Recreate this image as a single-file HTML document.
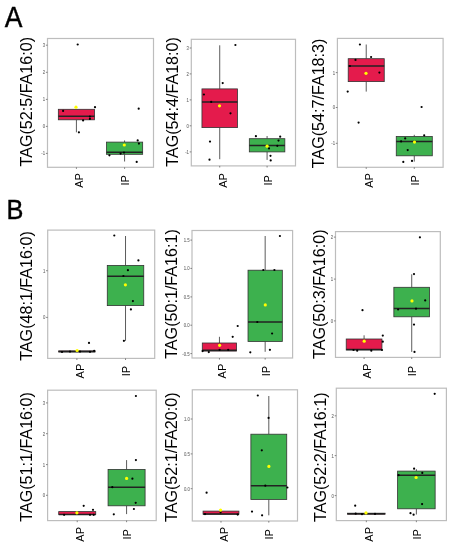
<!DOCTYPE html><html><head><meta charset="utf-8"><style>html,body{margin:0;padding:0;background:#fff;}svg{display:block;}text{font-family:"Liberation Sans",Arial,sans-serif;}</style></head><body>
<svg width="454" height="550" viewBox="0 0 454 550">
<rect width="454" height="550" fill="#fff"/>
<text transform="translate(4.7,26.8) scale(0.93,1.01)" font-size="28.5" fill="#000" stroke="#000" stroke-width="0.4">A</text>
<text transform="translate(6.4,219.1) scale(0.89,0.975)" font-size="28.5" fill="#000" stroke="#000" stroke-width="0.45">B</text>
<g><rect x="47.5" y="38.5" width="106" height="128.8" fill="none" stroke="#bdbdbd" stroke-width="1.2"/><line x1="45.9" y1="45.2" x2="47.5" y2="45.2" stroke="#666" stroke-width="0.8"/><text transform="translate(45.1,47.1) scale(0.8,1)" font-size="5.3" fill="#707070" stroke="#707070" stroke-width="0.1" text-anchor="end">3</text><line x1="45.9" y1="72.3" x2="47.5" y2="72.3" stroke="#666" stroke-width="0.8"/><text transform="translate(45.1,74.2) scale(0.8,1)" font-size="5.3" fill="#707070" stroke="#707070" stroke-width="0.1" text-anchor="end">2</text><line x1="45.9" y1="99.4" x2="47.5" y2="99.4" stroke="#666" stroke-width="0.8"/><text transform="translate(45.1,101.3) scale(0.8,1)" font-size="5.3" fill="#707070" stroke="#707070" stroke-width="0.1" text-anchor="end">1</text><line x1="45.9" y1="126.4" x2="47.5" y2="126.4" stroke="#666" stroke-width="0.8"/><text transform="translate(45.1,128.3) scale(0.8,1)" font-size="5.3" fill="#707070" stroke="#707070" stroke-width="0.1" text-anchor="end">0</text><line x1="45.9" y1="153.4" x2="47.5" y2="153.4" stroke="#666" stroke-width="0.8"/><text transform="translate(45.1,155.3) scale(0.8,1)" font-size="5.3" fill="#707070" stroke="#707070" stroke-width="0.1" text-anchor="end">-1</text><line x1="76.41" y1="167.3" x2="76.41" y2="168.9" stroke="#666" stroke-width="0.8"/><line x1="124.59" y1="167.3" x2="124.59" y2="168.9" stroke="#666" stroke-width="0.8"/><line x1="76.41" y1="119.8" x2="76.41" y2="132.3" stroke="#4a4a4a" stroke-width="0.9"/><rect x="58.34" y="109.3" width="36.14" height="10.5" fill="#E41B4C" stroke="#333" stroke-width="0.8"/><line x1="58.34" y1="116.3" x2="94.48" y2="116.3" stroke="#222" stroke-width="1.5"/><circle cx="77.7" cy="44.5" r="1.1" fill="#000"/><circle cx="63.1" cy="110.9" r="1.1" fill="#000"/><circle cx="95" cy="107.2" r="1.1" fill="#000"/><circle cx="83.1" cy="120.4" r="1.1" fill="#000"/><circle cx="89.9" cy="116.5" r="1.1" fill="#000"/><circle cx="89.9" cy="118.9" r="1.1" fill="#000"/><circle cx="78.9" cy="132.3" r="1.1" fill="#000"/><circle cx="76" cy="107.2" r="1.6" fill="#FFFF00"/><line x1="124.59" y1="140.4" x2="124.59" y2="142.1" stroke="#4a4a4a" stroke-width="0.9"/><line x1="124.59" y1="154.3" x2="124.59" y2="161.5" stroke="#4a4a4a" stroke-width="0.9"/><rect x="106.52" y="142.1" width="36.14" height="12.2" fill="#3DB14E" stroke="#333" stroke-width="0.8"/><line x1="106.52" y1="152.3" x2="142.66" y2="152.3" stroke="#222" stroke-width="1.5"/><circle cx="138.7" cy="108.7" r="1.1" fill="#000"/><circle cx="137.7" cy="140.4" r="1.1" fill="#000"/><circle cx="138.9" cy="143.6" r="1.1" fill="#000"/><circle cx="109.4" cy="155.3" r="1.1" fill="#000"/><circle cx="120.6" cy="153.6" r="1.1" fill="#000"/><circle cx="124" cy="152.6" r="1.1" fill="#000"/><circle cx="136.7" cy="161.9" r="1.1" fill="#000"/><circle cx="124.3" cy="145" r="1.6" fill="#FFFF00"/><text transform="translate(83.41,180.4) rotate(-90)" font-size="11" fill="#000" text-anchor="middle">AP</text><text transform="translate(129.09,180.4) rotate(-90)" font-size="11" fill="#000" text-anchor="middle">IP</text><text transform="translate(31.6,166.5) rotate(-90)" font-size="16.2" fill="#000" textLength="129.6" lengthAdjust="spacingAndGlyphs">TAG(52:5/FA16:0)</text></g>
<g><rect x="191.3" y="39.3" width="104.2" height="126.6" fill="none" stroke="#bdbdbd" stroke-width="1.2"/><line x1="189.7" y1="48" x2="191.3" y2="48" stroke="#666" stroke-width="0.8"/><text transform="translate(188.9,49.9) scale(0.8,1)" font-size="5.3" fill="#707070" stroke="#707070" stroke-width="0.1" text-anchor="end">3</text><line x1="189.7" y1="73.9" x2="191.3" y2="73.9" stroke="#666" stroke-width="0.8"/><text transform="translate(188.9,75.8) scale(0.8,1)" font-size="5.3" fill="#707070" stroke="#707070" stroke-width="0.1" text-anchor="end">2</text><line x1="189.7" y1="99.9" x2="191.3" y2="99.9" stroke="#666" stroke-width="0.8"/><text transform="translate(188.9,101.8) scale(0.8,1)" font-size="5.3" fill="#707070" stroke="#707070" stroke-width="0.1" text-anchor="end">1</text><line x1="189.7" y1="125.8" x2="191.3" y2="125.8" stroke="#666" stroke-width="0.8"/><text transform="translate(188.9,127.7) scale(0.8,1)" font-size="5.3" fill="#707070" stroke="#707070" stroke-width="0.1" text-anchor="end">0</text><line x1="189.7" y1="151.9" x2="191.3" y2="151.9" stroke="#666" stroke-width="0.8"/><text transform="translate(188.9,153.8) scale(0.8,1)" font-size="5.3" fill="#707070" stroke="#707070" stroke-width="0.1" text-anchor="end">-1</text><line x1="219.72" y1="165.9" x2="219.72" y2="167.5" stroke="#666" stroke-width="0.8"/><line x1="267.08" y1="165.9" x2="267.08" y2="167.5" stroke="#666" stroke-width="0.8"/><line x1="219.72" y1="45.3" x2="219.72" y2="88.9" stroke="#4a4a4a" stroke-width="0.9"/><line x1="219.72" y1="127.6" x2="219.72" y2="159.2" stroke="#4a4a4a" stroke-width="0.9"/><rect x="201.96" y="88.9" width="35.52" height="38.7" fill="#E41B4C" stroke="#333" stroke-width="0.8"/><line x1="201.96" y1="102.1" x2="237.48" y2="102.1" stroke="#222" stroke-width="1.5"/><circle cx="235.4" cy="45" r="1.1" fill="#000"/><circle cx="222.7" cy="83.1" r="1.1" fill="#000"/><circle cx="203.9" cy="94.5" r="1.1" fill="#000"/><circle cx="211.2" cy="101.9" r="1.1" fill="#000"/><circle cx="230.5" cy="113.3" r="1.1" fill="#000"/><circle cx="210" cy="141.6" r="1.1" fill="#000"/><circle cx="209.5" cy="159.7" r="1.1" fill="#000"/><circle cx="219.5" cy="105.8" r="1.6" fill="#FFFF00"/><line x1="267.08" y1="136" x2="267.08" y2="138.7" stroke="#4a4a4a" stroke-width="0.9"/><line x1="267.08" y1="151.9" x2="267.08" y2="159.9" stroke="#4a4a4a" stroke-width="0.9"/><rect x="249.32" y="138.7" width="35.52" height="13.2" fill="#3DB14E" stroke="#333" stroke-width="0.8"/><line x1="249.32" y1="145.5" x2="284.84" y2="145.5" stroke="#222" stroke-width="1.5"/><circle cx="255.9" cy="136.2" r="1.1" fill="#000"/><circle cx="280.2" cy="136.7" r="1.1" fill="#000"/><circle cx="278.5" cy="140.6" r="1.1" fill="#000"/><circle cx="277.3" cy="145.8" r="1.1" fill="#000"/><circle cx="269" cy="148.4" r="1.1" fill="#000"/><circle cx="270.5" cy="155.8" r="1.1" fill="#000"/><circle cx="270.7" cy="160.4" r="1.1" fill="#000"/><circle cx="267.1" cy="146.2" r="1.6" fill="#FFFF00"/><text transform="translate(226.72,180.4) rotate(-90)" font-size="11" fill="#000" text-anchor="middle">AP</text><text transform="translate(271.58,180.4) rotate(-90)" font-size="11" fill="#000" text-anchor="middle">IP</text><text transform="translate(178.1,166.7) rotate(-90)" font-size="16.2" fill="#000" textLength="129.6" lengthAdjust="spacingAndGlyphs">TAG(54:4/FA18:0)</text></g>
<g><rect x="337.4" y="38.4" width="105.7" height="128.9" fill="none" stroke="#bdbdbd" stroke-width="1.2"/><line x1="335.8" y1="72.6" x2="337.4" y2="72.6" stroke="#666" stroke-width="0.8"/><text transform="translate(335,74.5) scale(0.8,1)" font-size="5.3" fill="#707070" stroke="#707070" stroke-width="0.1" text-anchor="end">1</text><line x1="335.8" y1="107.5" x2="337.4" y2="107.5" stroke="#666" stroke-width="0.8"/><text transform="translate(335,109.4) scale(0.8,1)" font-size="5.3" fill="#707070" stroke="#707070" stroke-width="0.1" text-anchor="end">0</text><line x1="335.8" y1="143.3" x2="337.4" y2="143.3" stroke="#666" stroke-width="0.8"/><text transform="translate(335,145.2) scale(0.8,1)" font-size="5.3" fill="#707070" stroke="#707070" stroke-width="0.1" text-anchor="end">-1</text><line x1="366.23" y1="167.3" x2="366.23" y2="168.9" stroke="#666" stroke-width="0.8"/><line x1="414.27" y1="167.3" x2="414.27" y2="168.9" stroke="#666" stroke-width="0.8"/><line x1="366.23" y1="44.5" x2="366.23" y2="58.7" stroke="#4a4a4a" stroke-width="0.9"/><line x1="366.23" y1="81.6" x2="366.23" y2="91.6" stroke="#4a4a4a" stroke-width="0.9"/><rect x="348.21" y="58.7" width="36.03" height="22.9" fill="#E41B4C" stroke="#333" stroke-width="0.8"/><line x1="348.21" y1="66" x2="384.24" y2="66" stroke="#222" stroke-width="1.5"/><circle cx="359.9" cy="44.5" r="1.1" fill="#000"/><circle cx="371.1" cy="57" r="1.1" fill="#000"/><circle cx="355.5" cy="59.9" r="1.1" fill="#000"/><circle cx="349.9" cy="66" r="1.1" fill="#000"/><circle cx="379.4" cy="72.6" r="1.1" fill="#000"/><circle cx="347.7" cy="91.6" r="1.1" fill="#000"/><circle cx="358.6" cy="122.6" r="1.1" fill="#000"/><circle cx="366" cy="73.3" r="1.6" fill="#FFFF00"/><line x1="414.27" y1="134.8" x2="414.27" y2="136.5" stroke="#4a4a4a" stroke-width="0.9"/><line x1="414.27" y1="155.8" x2="414.27" y2="161.6" stroke="#4a4a4a" stroke-width="0.9"/><rect x="396.26" y="136.5" width="36.03" height="19.3" fill="#3DB14E" stroke="#333" stroke-width="0.8"/><line x1="396.26" y1="141.4" x2="432.29" y2="141.4" stroke="#222" stroke-width="1.5"/><circle cx="421.6" cy="107" r="1.1" fill="#000"/><circle cx="424.2" cy="135.3" r="1.1" fill="#000"/><circle cx="405.2" cy="138.4" r="1.1" fill="#000"/><circle cx="401.1" cy="141.4" r="1.1" fill="#000"/><circle cx="407.7" cy="150.1" r="1.1" fill="#000"/><circle cx="403.3" cy="161.9" r="1.1" fill="#000"/><circle cx="412" cy="160.9" r="1.1" fill="#000"/><circle cx="414.5" cy="142.1" r="1.6" fill="#FFFF00"/><text transform="translate(373.23,180.4) rotate(-90)" font-size="11" fill="#000" text-anchor="middle">AP</text><text transform="translate(418.77,180.4) rotate(-90)" font-size="11" fill="#000" text-anchor="middle">IP</text><text transform="translate(323.9,168.2) rotate(-90)" font-size="16.2" fill="#000" textLength="129.6" lengthAdjust="spacingAndGlyphs">TAG(54:7/FA18:3)</text></g>
<g><rect x="47.7" y="230.1" width="107" height="128.3" fill="none" stroke="#bdbdbd" stroke-width="1.2"/><line x1="46.1" y1="270.7" x2="47.7" y2="270.7" stroke="#666" stroke-width="0.8"/><text transform="translate(45.3,272.6) scale(0.8,1)" font-size="5.3" fill="#707070" stroke="#707070" stroke-width="0.1" text-anchor="end">1</text><line x1="46.1" y1="317.4" x2="47.7" y2="317.4" stroke="#666" stroke-width="0.8"/><text transform="translate(45.3,319.3) scale(0.8,1)" font-size="5.3" fill="#707070" stroke="#707070" stroke-width="0.1" text-anchor="end">0</text><line x1="76.88" y1="358.4" x2="76.88" y2="360" stroke="#666" stroke-width="0.8"/><line x1="125.52" y1="358.4" x2="125.52" y2="360" stroke="#666" stroke-width="0.8"/><rect x="58.64" y="350.9" width="36.48" height="1.1" fill="#E41B4C" stroke="#333" stroke-width="0.8"/><line x1="58.64" y1="351.5" x2="95.12" y2="351.5" stroke="#222" stroke-width="1.5"/><circle cx="89" cy="342.9" r="1.1" fill="#000"/><circle cx="94.2" cy="350.8" r="1.1" fill="#000"/><circle cx="62" cy="352" r="1.1" fill="#000"/><circle cx="70" cy="351.6" r="1.1" fill="#000"/><circle cx="80" cy="351.6" r="1.1" fill="#000"/><circle cx="90" cy="351.8" r="1.1" fill="#000"/><circle cx="77.1" cy="350.5" r="1.6" fill="#FFFF00"/><line x1="125.52" y1="236" x2="125.52" y2="265.4" stroke="#4a4a4a" stroke-width="0.9"/><line x1="125.52" y1="305.6" x2="125.52" y2="340.8" stroke="#4a4a4a" stroke-width="0.9"/><rect x="107.28" y="265.4" width="36.48" height="40.2" fill="#3DB14E" stroke="#333" stroke-width="0.8"/><line x1="107.28" y1="276.2" x2="143.76" y2="276.2" stroke="#222" stroke-width="1.5"/><circle cx="114.3" cy="235.5" r="1.1" fill="#000"/><circle cx="138.4" cy="260.4" r="1.1" fill="#000"/><circle cx="127.9" cy="270.2" r="1.1" fill="#000"/><circle cx="123.4" cy="276" r="1.1" fill="#000"/><circle cx="132.9" cy="301.1" r="1.1" fill="#000"/><circle cx="130.9" cy="309.4" r="1.1" fill="#000"/><circle cx="123.9" cy="340.8" r="1.1" fill="#000"/><circle cx="125.4" cy="284.8" r="1.6" fill="#FFFF00"/><text transform="translate(83.88,371.1) rotate(-90)" font-size="11" fill="#000" text-anchor="middle">AP</text><text transform="translate(130.02,371.1) rotate(-90)" font-size="11" fill="#000" text-anchor="middle">IP</text><text transform="translate(31.6,360.8) rotate(-90)" font-size="16.2" fill="#000" textLength="129.6" lengthAdjust="spacingAndGlyphs">TAG(48:1/FA16:0)</text></g>
<g><rect x="192" y="230.5" width="100.6" height="127.5" fill="none" stroke="#bdbdbd" stroke-width="1.2"/><line x1="190.4" y1="240.1" x2="192" y2="240.1" stroke="#666" stroke-width="0.8"/><text transform="translate(189.6,242) scale(0.8,1)" font-size="5.3" fill="#707070" stroke="#707070" stroke-width="0.1" text-anchor="end">1.5</text><line x1="190.4" y1="268.4" x2="192" y2="268.4" stroke="#666" stroke-width="0.8"/><text transform="translate(189.6,270.3) scale(0.8,1)" font-size="5.3" fill="#707070" stroke="#707070" stroke-width="0.1" text-anchor="end">1.0</text><line x1="190.4" y1="296.9" x2="192" y2="296.9" stroke="#666" stroke-width="0.8"/><text transform="translate(189.6,298.8) scale(0.8,1)" font-size="5.3" fill="#707070" stroke="#707070" stroke-width="0.1" text-anchor="end">0.5</text><line x1="190.4" y1="325.2" x2="192" y2="325.2" stroke="#666" stroke-width="0.8"/><text transform="translate(189.6,327.1) scale(0.8,1)" font-size="5.3" fill="#707070" stroke="#707070" stroke-width="0.1" text-anchor="end">0.0</text><line x1="190.4" y1="353.6" x2="192" y2="353.6" stroke="#666" stroke-width="0.8"/><text transform="translate(189.6,355.5) scale(0.8,1)" font-size="5.3" fill="#707070" stroke="#707070" stroke-width="0.1" text-anchor="end">-0.5</text><line x1="219.44" y1="358" x2="219.44" y2="359.6" stroke="#666" stroke-width="0.8"/><line x1="265.16" y1="358" x2="265.16" y2="359.6" stroke="#666" stroke-width="0.8"/><line x1="219.44" y1="336.8" x2="219.44" y2="343" stroke="#4a4a4a" stroke-width="0.9"/><rect x="202.29" y="343" width="34.3" height="8.1" fill="#E41B4C" stroke="#333" stroke-width="0.8"/><line x1="202.29" y1="350.3" x2="236.58" y2="350.3" stroke="#222" stroke-width="1.5"/><circle cx="237.7" cy="326" r="1.1" fill="#000"/><circle cx="232.7" cy="336.8" r="1.1" fill="#000"/><circle cx="228.2" cy="349.8" r="1.1" fill="#000"/><circle cx="219.6" cy="349.8" r="1.1" fill="#000"/><circle cx="208.8" cy="352.1" r="1.1" fill="#000"/><circle cx="202.6" cy="351.1" r="1.1" fill="#000"/><circle cx="219.6" cy="345.3" r="1.6" fill="#FFFF00"/><line x1="265.16" y1="236" x2="265.16" y2="270.2" stroke="#4a4a4a" stroke-width="0.9"/><line x1="265.16" y1="341.5" x2="265.16" y2="351.8" stroke="#4a4a4a" stroke-width="0.9"/><rect x="248.02" y="270.2" width="34.3" height="71.3" fill="#3DB14E" stroke="#333" stroke-width="0.8"/><line x1="248.02" y1="322" x2="282.31" y2="322" stroke="#222" stroke-width="1.5"/><circle cx="279.9" cy="236" r="1.1" fill="#000"/><circle cx="263.3" cy="270" r="1.1" fill="#000"/><circle cx="274.4" cy="270" r="1.1" fill="#000"/><circle cx="257.3" cy="322" r="1.1" fill="#000"/><circle cx="272.1" cy="333.5" r="1.1" fill="#000"/><circle cx="269.9" cy="349.8" r="1.1" fill="#000"/><circle cx="250.3" cy="352.3" r="1.1" fill="#000"/><circle cx="265.3" cy="304.9" r="1.6" fill="#FFFF00"/><text transform="translate(226.44,371.1) rotate(-90)" font-size="11" fill="#000" text-anchor="middle">AP</text><text transform="translate(269.66,371.1) rotate(-90)" font-size="11" fill="#000" text-anchor="middle">IP</text><text transform="translate(176.7,358.8) rotate(-90)" font-size="16.2" fill="#000" textLength="129.6" lengthAdjust="spacingAndGlyphs">TAG(50:1/FA16:1)</text></g>
<g><rect x="335.5" y="231.6" width="104.8" height="125.8" fill="none" stroke="#bdbdbd" stroke-width="1.2"/><line x1="333.9" y1="237.1" x2="335.5" y2="237.1" stroke="#666" stroke-width="0.8"/><text transform="translate(333.1,239) scale(0.8,1)" font-size="5.3" fill="#707070" stroke="#707070" stroke-width="0.1" text-anchor="end">2</text><line x1="333.9" y1="279.1" x2="335.5" y2="279.1" stroke="#666" stroke-width="0.8"/><text transform="translate(333.1,281) scale(0.8,1)" font-size="5.3" fill="#707070" stroke="#707070" stroke-width="0.1" text-anchor="end">1</text><line x1="333.9" y1="320.9" x2="335.5" y2="320.9" stroke="#666" stroke-width="0.8"/><text transform="translate(333.1,322.8) scale(0.8,1)" font-size="5.3" fill="#707070" stroke="#707070" stroke-width="0.1" text-anchor="end">0</text><line x1="364.08" y1="357.4" x2="364.08" y2="359" stroke="#666" stroke-width="0.8"/><line x1="411.72" y1="357.4" x2="411.72" y2="359" stroke="#666" stroke-width="0.8"/><line x1="364.08" y1="335.3" x2="364.08" y2="339" stroke="#4a4a4a" stroke-width="0.9"/><rect x="346.22" y="339" width="35.73" height="11" fill="#E41B4C" stroke="#333" stroke-width="0.8"/><line x1="346.22" y1="349.6" x2="381.95" y2="349.6" stroke="#222" stroke-width="1.5"/><circle cx="362.5" cy="310.2" r="1.1" fill="#000"/><circle cx="382.8" cy="335.6" r="1.1" fill="#000"/><circle cx="382.8" cy="341.7" r="1.1" fill="#000"/><circle cx="357.2" cy="350.7" r="1.1" fill="#000"/><circle cx="371.3" cy="350.7" r="1.1" fill="#000"/><circle cx="353.5" cy="350" r="1.1" fill="#000"/><circle cx="382" cy="350" r="1.1" fill="#000"/><circle cx="364.2" cy="341.2" r="1.6" fill="#FFFF00"/><line x1="411.72" y1="274.3" x2="411.72" y2="287.3" stroke="#4a4a4a" stroke-width="0.9"/><line x1="411.72" y1="316.8" x2="411.72" y2="351.9" stroke="#4a4a4a" stroke-width="0.9"/><rect x="393.85" y="287.3" width="35.73" height="29.5" fill="#3DB14E" stroke="#333" stroke-width="0.8"/><line x1="393.85" y1="308.5" x2="429.58" y2="308.5" stroke="#222" stroke-width="1.5"/><circle cx="419.9" cy="237.3" r="1.1" fill="#000"/><circle cx="414" cy="274.1" r="1.1" fill="#000"/><circle cx="425.2" cy="300.4" r="1.1" fill="#000"/><circle cx="398.1" cy="309.5" r="1.1" fill="#000"/><circle cx="416" cy="308.7" r="1.1" fill="#000"/><circle cx="414" cy="324.6" r="1.1" fill="#000"/><circle cx="414.5" cy="351.9" r="1.1" fill="#000"/><circle cx="412" cy="300.9" r="1.6" fill="#FFFF00"/><text transform="translate(371.08,371.1) rotate(-90)" font-size="11" fill="#000" text-anchor="middle">AP</text><text transform="translate(416.22,371.1) rotate(-90)" font-size="11" fill="#000" text-anchor="middle">IP</text><text transform="translate(324.8,359) rotate(-90)" font-size="16.2" fill="#000" textLength="129.6" lengthAdjust="spacingAndGlyphs">TAG(50:3/FA16:0)</text></g>
<g><rect x="47.6" y="390.2" width="108.6" height="130.4" fill="none" stroke="#bdbdbd" stroke-width="1.2"/><line x1="46" y1="402.9" x2="47.6" y2="402.9" stroke="#666" stroke-width="0.8"/><text transform="translate(45.2,404.8) scale(0.8,1)" font-size="5.3" fill="#707070" stroke="#707070" stroke-width="0.1" text-anchor="end">3</text><line x1="46" y1="433.7" x2="47.6" y2="433.7" stroke="#666" stroke-width="0.8"/><text transform="translate(45.2,435.6) scale(0.8,1)" font-size="5.3" fill="#707070" stroke="#707070" stroke-width="0.1" text-anchor="end">2</text><line x1="46" y1="464.6" x2="47.6" y2="464.6" stroke="#666" stroke-width="0.8"/><text transform="translate(45.2,466.5) scale(0.8,1)" font-size="5.3" fill="#707070" stroke="#707070" stroke-width="0.1" text-anchor="end">1</text><line x1="46" y1="495.3" x2="47.6" y2="495.3" stroke="#666" stroke-width="0.8"/><text transform="translate(45.2,497.2) scale(0.8,1)" font-size="5.3" fill="#707070" stroke="#707070" stroke-width="0.1" text-anchor="end">0</text><line x1="77.22" y1="520.6" x2="77.22" y2="522.2" stroke="#666" stroke-width="0.8"/><line x1="126.58" y1="520.6" x2="126.58" y2="522.2" stroke="#666" stroke-width="0.8"/><rect x="58.71" y="511.6" width="37.02" height="2.9" fill="#E41B4C" stroke="#333" stroke-width="0.8"/><line x1="58.71" y1="514.4" x2="95.73" y2="514.4" stroke="#222" stroke-width="1.5"/><circle cx="83.7" cy="505.8" r="1.1" fill="#000"/><circle cx="93" cy="509.8" r="1.1" fill="#000"/><circle cx="64.1" cy="514.8" r="1.1" fill="#000"/><circle cx="90" cy="514.8" r="1.1" fill="#000"/><circle cx="93.7" cy="514.8" r="1.1" fill="#000"/><circle cx="76.9" cy="512.8" r="1.6" fill="#FFFF00"/><line x1="126.58" y1="460.1" x2="126.58" y2="469.4" stroke="#4a4a4a" stroke-width="0.9"/><line x1="126.58" y1="505.8" x2="126.58" y2="514.1" stroke="#4a4a4a" stroke-width="0.9"/><rect x="108.07" y="469.4" width="37.02" height="36.4" fill="#3DB14E" stroke="#333" stroke-width="0.8"/><line x1="108.07" y1="487.2" x2="145.09" y2="487.2" stroke="#222" stroke-width="1.5"/><circle cx="135.9" cy="396" r="1.1" fill="#000"/><circle cx="135.9" cy="460.1" r="1.1" fill="#000"/><circle cx="132.4" cy="478.7" r="1.1" fill="#000"/><circle cx="112.3" cy="487.2" r="1.1" fill="#000"/><circle cx="135.7" cy="502.8" r="1.1" fill="#000"/><circle cx="133.9" cy="509" r="1.1" fill="#000"/><circle cx="113.8" cy="514.3" r="1.1" fill="#000"/><circle cx="126.6" cy="478.4" r="1.6" fill="#FFFF00"/><text transform="translate(84.22,534.3) rotate(-90)" font-size="11" fill="#000" text-anchor="middle">AP</text><text transform="translate(131.08,534.3) rotate(-90)" font-size="11" fill="#000" text-anchor="middle">IP</text><text transform="translate(31.6,521.7) rotate(-90)" font-size="16.2" fill="#000" textLength="129.6" lengthAdjust="spacingAndGlyphs">TAG(51:1/FA16:0)</text></g>
<g><rect x="192.3" y="389.8" width="105.2" height="131.2" fill="none" stroke="#bdbdbd" stroke-width="1.2"/><line x1="190.7" y1="419" x2="192.3" y2="419" stroke="#666" stroke-width="0.8"/><text transform="translate(189.9,420.9) scale(0.8,1)" font-size="5.3" fill="#707070" stroke="#707070" stroke-width="0.1" text-anchor="end">1.0</text><line x1="190.7" y1="453.9" x2="192.3" y2="453.9" stroke="#666" stroke-width="0.8"/><text transform="translate(189.9,455.8) scale(0.8,1)" font-size="5.3" fill="#707070" stroke="#707070" stroke-width="0.1" text-anchor="end">0.5</text><line x1="190.7" y1="488.7" x2="192.3" y2="488.7" stroke="#666" stroke-width="0.8"/><text transform="translate(189.9,490.6) scale(0.8,1)" font-size="5.3" fill="#707070" stroke="#707070" stroke-width="0.1" text-anchor="end">0.0</text><line x1="220.99" y1="521" x2="220.99" y2="522.6" stroke="#666" stroke-width="0.8"/><line x1="268.81" y1="521" x2="268.81" y2="522.6" stroke="#666" stroke-width="0.8"/><rect x="203.06" y="511.1" width="35.86" height="3.1" fill="#E41B4C" stroke="#333" stroke-width="0.8"/><line x1="203.06" y1="514" x2="238.92" y2="514" stroke="#222" stroke-width="1.5"/><circle cx="206.6" cy="492.7" r="1.1" fill="#000"/><circle cx="220.6" cy="512.3" r="1.1" fill="#000"/><circle cx="237.7" cy="514.6" r="1.1" fill="#000"/><circle cx="205" cy="514.1" r="1.1" fill="#000"/><circle cx="220.6" cy="510.1" r="1.6" fill="#FFFF00"/><line x1="268.81" y1="396" x2="268.81" y2="434.2" stroke="#4a4a4a" stroke-width="0.9"/><line x1="268.81" y1="499.5" x2="268.81" y2="515.3" stroke="#4a4a4a" stroke-width="0.9"/><rect x="250.88" y="434.2" width="35.86" height="65.3" fill="#3DB14E" stroke="#333" stroke-width="0.8"/><line x1="250.88" y1="485.7" x2="286.74" y2="485.7" stroke="#222" stroke-width="1.5"/><circle cx="257.8" cy="395.5" r="1.1" fill="#000"/><circle cx="268.6" cy="417.9" r="1.1" fill="#000"/><circle cx="261.8" cy="450.3" r="1.1" fill="#000"/><circle cx="265.3" cy="485.7" r="1.1" fill="#000"/><circle cx="287.4" cy="487.5" r="1.1" fill="#000"/><circle cx="252" cy="511.6" r="1.1" fill="#000"/><circle cx="262.1" cy="515.3" r="1.1" fill="#000"/><circle cx="268.9" cy="466.4" r="1.6" fill="#FFFF00"/><text transform="translate(227.99,534.3) rotate(-90)" font-size="11" fill="#000" text-anchor="middle">AP</text><text transform="translate(273.31,534.3) rotate(-90)" font-size="11" fill="#000" text-anchor="middle">IP</text><text transform="translate(176.6,522) rotate(-90)" font-size="16.2" fill="#000" textLength="129.6" lengthAdjust="spacingAndGlyphs">TAG(52:1/FA20:0)</text></g>
<g><rect x="336.3" y="388.2" width="110.1" height="132.4" fill="none" stroke="#bdbdbd" stroke-width="1.2"/><line x1="334.7" y1="415.8" x2="336.3" y2="415.8" stroke="#666" stroke-width="0.8"/><text transform="translate(333.9,417.7) scale(0.8,1)" font-size="5.3" fill="#707070" stroke="#707070" stroke-width="0.1" text-anchor="end">2</text><line x1="334.7" y1="455.6" x2="336.3" y2="455.6" stroke="#666" stroke-width="0.8"/><text transform="translate(333.9,457.5) scale(0.8,1)" font-size="5.3" fill="#707070" stroke="#707070" stroke-width="0.1" text-anchor="end">1</text><line x1="334.7" y1="495.6" x2="336.3" y2="495.6" stroke="#666" stroke-width="0.8"/><text transform="translate(333.9,497.5) scale(0.8,1)" font-size="5.3" fill="#707070" stroke="#707070" stroke-width="0.1" text-anchor="end">0</text><line x1="366.33" y1="520.6" x2="366.33" y2="522.2" stroke="#666" stroke-width="0.8"/><line x1="416.37" y1="520.6" x2="416.37" y2="522.2" stroke="#666" stroke-width="0.8"/><rect x="347.56" y="513.2" width="37.53" height="1" fill="#E41B4C" stroke="#333" stroke-width="0.8"/><line x1="347.56" y1="513.7" x2="385.09" y2="513.7" stroke="#222" stroke-width="1.5"/><circle cx="355.2" cy="505.7" r="1.1" fill="#000"/><circle cx="355.7" cy="513.7" r="1.1" fill="#000"/><circle cx="362" cy="514.2" r="1.1" fill="#000"/><circle cx="375" cy="513.9" r="1.1" fill="#000"/><circle cx="366" cy="512.9" r="1.6" fill="#FFFF00"/><line x1="416.37" y1="469.2" x2="416.37" y2="471.1" stroke="#4a4a4a" stroke-width="0.9"/><line x1="416.37" y1="508.8" x2="416.37" y2="514.5" stroke="#4a4a4a" stroke-width="0.9"/><rect x="397.61" y="471.1" width="37.53" height="37.7" fill="#3DB14E" stroke="#333" stroke-width="0.8"/><line x1="397.61" y1="475.2" x2="435.14" y2="475.2" stroke="#222" stroke-width="1.5"/><circle cx="434.7" cy="393.8" r="1.1" fill="#000"/><circle cx="414.1" cy="468.7" r="1.1" fill="#000"/><circle cx="422.3" cy="472.9" r="1.1" fill="#000"/><circle cx="398.6" cy="475.2" r="1.1" fill="#000"/><circle cx="422.1" cy="504.1" r="1.1" fill="#000"/><circle cx="410.5" cy="513.2" r="1.1" fill="#000"/><circle cx="413.6" cy="514.7" r="1.1" fill="#000"/><circle cx="416.1" cy="477.5" r="1.6" fill="#FFFF00"/><text transform="translate(373.33,534.3) rotate(-90)" font-size="11" fill="#000" text-anchor="middle">AP</text><text transform="translate(420.87,534.3) rotate(-90)" font-size="11" fill="#000" text-anchor="middle">IP</text><text transform="translate(326.1,522) rotate(-90)" font-size="16.2" fill="#000" textLength="129.6" lengthAdjust="spacingAndGlyphs">TAG(52:2/FA16:1)</text></g>
</svg></body></html>
